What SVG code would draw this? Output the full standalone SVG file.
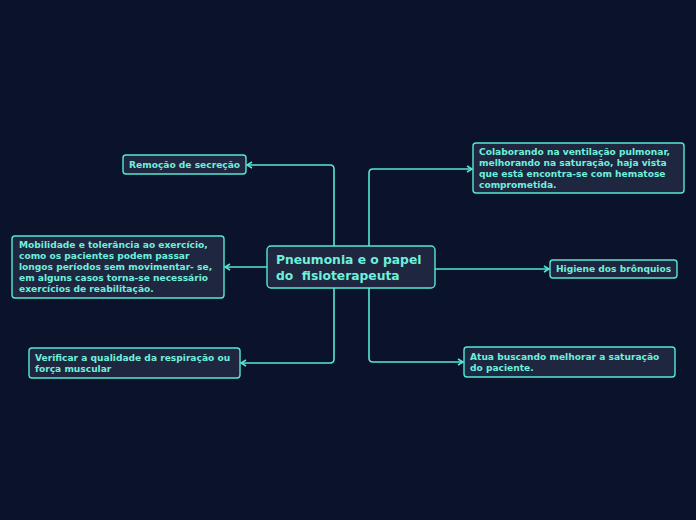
<svg xmlns="http://www.w3.org/2000/svg" width="696" height="520" viewBox="0 0 696 520">
<defs>
<style>
.bg{fill:#0b132b}
.box{fill:#1e2640;stroke:#55e8d6;stroke-width:1.4}
.t{font-family:"DejaVu Sans",sans-serif;font-weight:bold;fill:#6ef0dc;font-size:9.1px}
.tc{font-family:"DejaVu Sans",sans-serif;font-weight:bold;fill:#6ef0dc;font-size:12.3px}
.c{fill:none;stroke:#55e8d6;stroke-width:1.6}
</style>
<marker id="ar" markerWidth="8" markerHeight="8" refX="6.5" refY="4" orient="auto" markerUnits="userSpaceOnUse">
<path d="M1.5,1 L6.5,4 L1.5,7" fill="none" stroke="#55e8d6" stroke-width="1.5"/>
</marker>
</defs>
<rect class="bg" width="696" height="520"/>
<g id="connectors">
<path class="c" d="M334,246 V169 Q334,165 330,165 H247" marker-end="url(#ar)"/>
<path class="c" d="M267,267 H225" marker-end="url(#ar)"/>
<path class="c" d="M334,288 V359 Q334,363 330,363 H241" marker-end="url(#ar)"/>
<path class="c" d="M369,246 V173 Q369,169 373,169 H472" marker-end="url(#ar)"/>
<path class="c" d="M435,269 H549" marker-end="url(#ar)"/>
<path class="c" d="M369,288 V358 Q369,362 373,362 H463" marker-end="url(#ar)"/>
</g>
<g id="center">
<rect class="box" x="267" y="246" width="168" height="42" rx="4"/>
<text class="tc" x="276" y="264">Pneumonia e o papel</text>
<text class="tc" x="276" y="280" xml:space="preserve">do  fisioterapeuta</text>
</g>
<g id="remocao">
<rect class="box" x="123" y="155" width="123" height="19" rx="3"/>
<text class="t" x="129" y="168">Remoção de secreção</text>
</g>
<g id="mobilidade">
<rect class="box" x="12" y="236" width="212" height="62" rx="3"/>
<text class="t" x="19" y="248">Mobilidade e tolerância ao exercício,</text>
<text class="t" x="19" y="259">como os pacientes podem passar</text>
<text class="t" x="19" y="270">longos períodos sem movimentar- se,</text>
<text class="t" x="19" y="281">em alguns casos torna-se necessário</text>
<text class="t" x="19" y="292">exercícios de reabilitação.</text>
</g>
<g id="verificar">
<rect class="box" x="29" y="348" width="211" height="30" rx="3"/>
<text class="t" x="35" y="361">Verificar a qualidade da respiração ou</text>
<text class="t" x="35" y="372">força muscular</text>
</g>
<g id="colaborando">
<rect class="box" x="473" y="143" width="211" height="50" rx="3"/>
<text class="t" x="479" y="155">Colaborando na ventilação pulmonar,</text>
<text class="t" x="479" y="166">melhorando na saturação, haja vista</text>
<text class="t" x="479" y="177">que está encontra-se com hematose</text>
<text class="t" x="479" y="188">comprometida.</text>
</g>
<g id="higiene">
<rect class="box" x="550" y="260" width="127" height="18" rx="3"/>
<text class="t" x="556" y="272">Higiene dos brônquios</text>
</g>
<g id="atua">
<rect class="box" x="464" y="347" width="211" height="30" rx="3"/>
<text class="t" x="470" y="360">Atua buscando melhorar a saturação</text>
<text class="t" x="470" y="371">do paciente.</text>
</g>
</svg>
